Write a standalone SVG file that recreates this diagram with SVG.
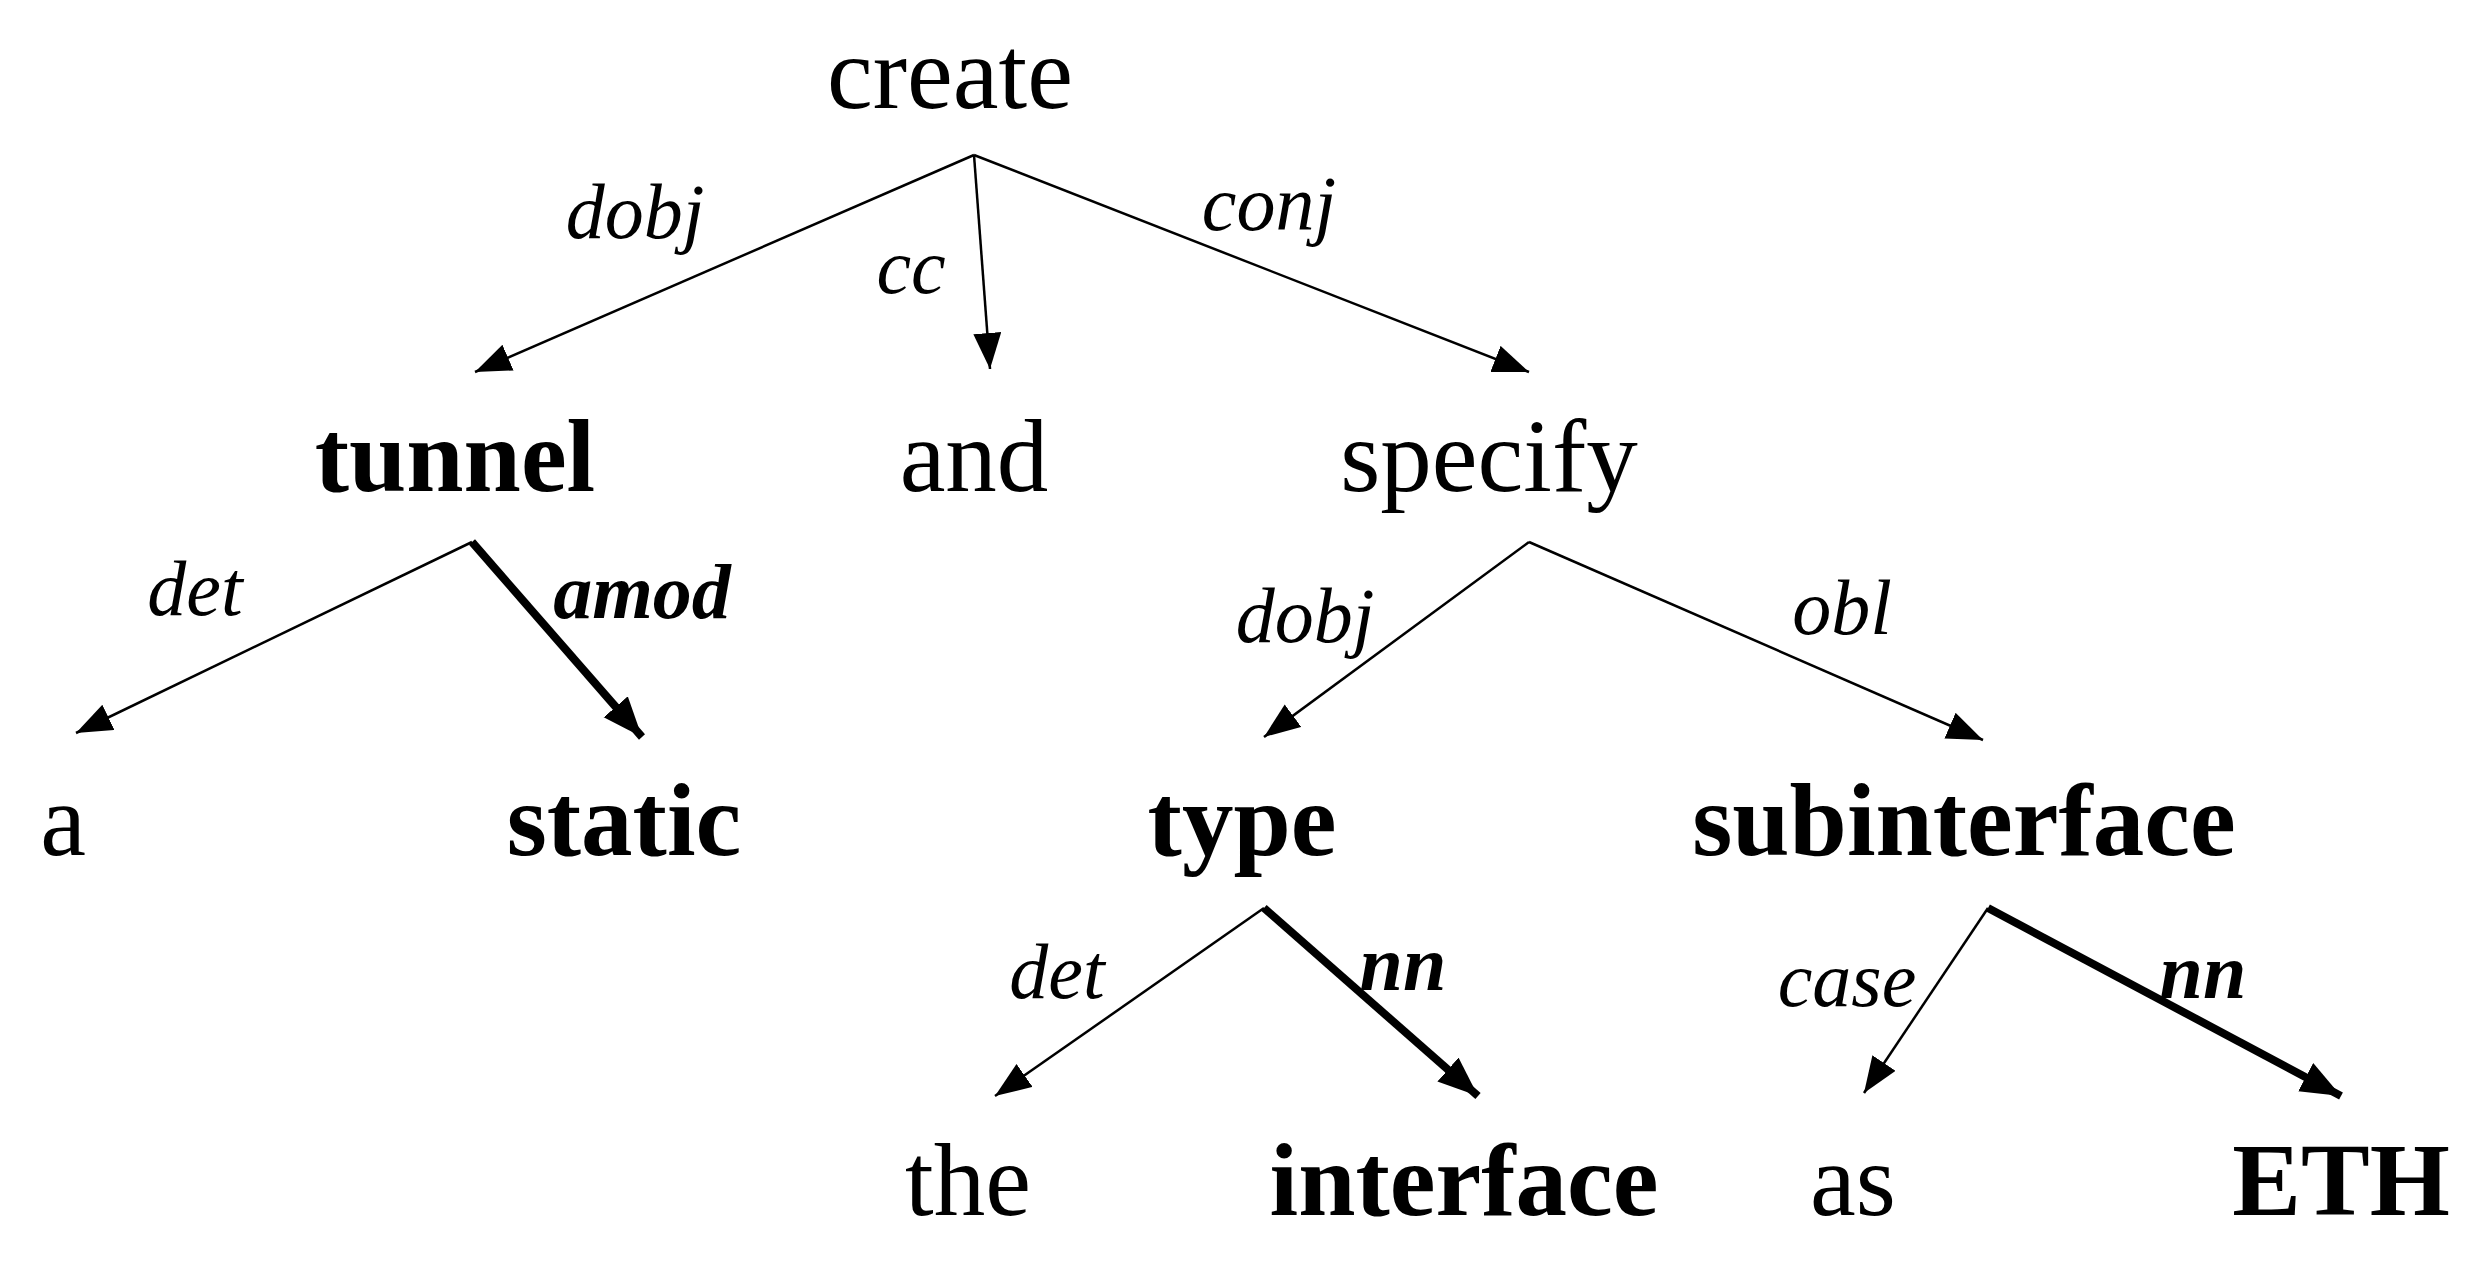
<svg xmlns="http://www.w3.org/2000/svg" width="2484" height="1269" viewBox="0 0 2484 1269">
<style>
.w{font-family:"Liberation Serif",serif;font-size:103px;text-anchor:middle;fill:#000}
.b{font-weight:bold}
.l{font-family:"Liberation Serif",serif;font-size:78px;font-style:italic;text-anchor:middle;fill:#000}
.t{stroke:#000;stroke-width:2.5;fill:none;marker-end:url(#a)}
.k{stroke:#000;stroke-width:8;fill:none;marker-end:url(#ab)}
</style>
<defs>
<marker id="a" markerUnits="userSpaceOnUse" markerWidth="40" markerHeight="30" refX="36" refY="14" orient="auto"><path d="M0,0 L36,14 L0,28 Z" fill="#000"/></marker>
<marker id="ab" markerUnits="userSpaceOnUse" markerWidth="44" markerHeight="34" refX="40" refY="16" orient="auto"><path d="M0,0 L40,16 L0,32 Z" fill="#000"/></marker>
</defs>
<rect width="2484" height="1269" fill="#fff"/>
<g id="connectors">
<line class="t" x1="974" y1="155" x2="475" y2="372"/>
<line class="t" x1="974" y1="155" x2="990" y2="369"/>
<line class="t" x1="974" y1="155" x2="1529" y2="372"/>
<line class="t" x1="472" y1="542" x2="76" y2="733"/>
<line class="k" x1="472" y1="542" x2="642" y2="737"/>
<line class="t" x1="1529" y1="542" x2="1264" y2="737"/>
<line class="t" x1="1529" y1="542" x2="1983" y2="740"/>
<line class="t" x1="1264" y1="908" x2="995" y2="1096"/>
<line class="k" x1="1264" y1="908" x2="1478" y2="1096"/>
<line class="t" x1="1988" y1="908" x2="1864" y2="1093"/>
<line class="k" x1="1988" y1="908" x2="2341" y2="1096"/>
<text class="l" x="635" y="238">dobj</text>
<text class="l" x="911" y="293">cc</text>
<text class="l" x="1269" y="230">conj</text>
<text class="l" x="195" y="615">det</text>
<text class="l b" x="642" y="618">amod</text>
<text class="l" x="1305" y="642">dobj</text>
<text class="l" x="1842" y="634">obl</text>
<text class="l" x="1057" y="998">det</text>
<text class="l b" x="1403" y="990">nn</text>
<text class="l" x="1847" y="1006">case</text>
<text class="l b" x="2203" y="998">nn</text>
</g>
<g id="create"><text class="w" x="950" y="108">create</text></g>
<g id="tunnel"><text class="w b" x="455" y="491">tunnel</text></g>
<g id="and"><text class="w" x="974" y="491">and</text></g>
<g id="specify"><text class="w" x="1489" y="491">specify</text></g>
<g id="a_"><text class="w" x="63" y="855">a</text></g>
<g id="static"><text class="w b" x="624" y="855">static</text></g>
<g id="type"><text class="w b" x="1242" y="855">type</text></g>
<g id="subinterface"><text class="w b" x="1964" y="855">subinterface</text></g>
<g id="the"><text class="w" x="968" y="1215">the</text></g>
<g id="interface"><text class="w b" x="1464" y="1215">interface</text></g>
<g id="as"><text class="w" x="1853" y="1215">as</text></g>
<g id="ETH"><text class="w b" x="2341" y="1215">ETH</text></g>
</svg>
